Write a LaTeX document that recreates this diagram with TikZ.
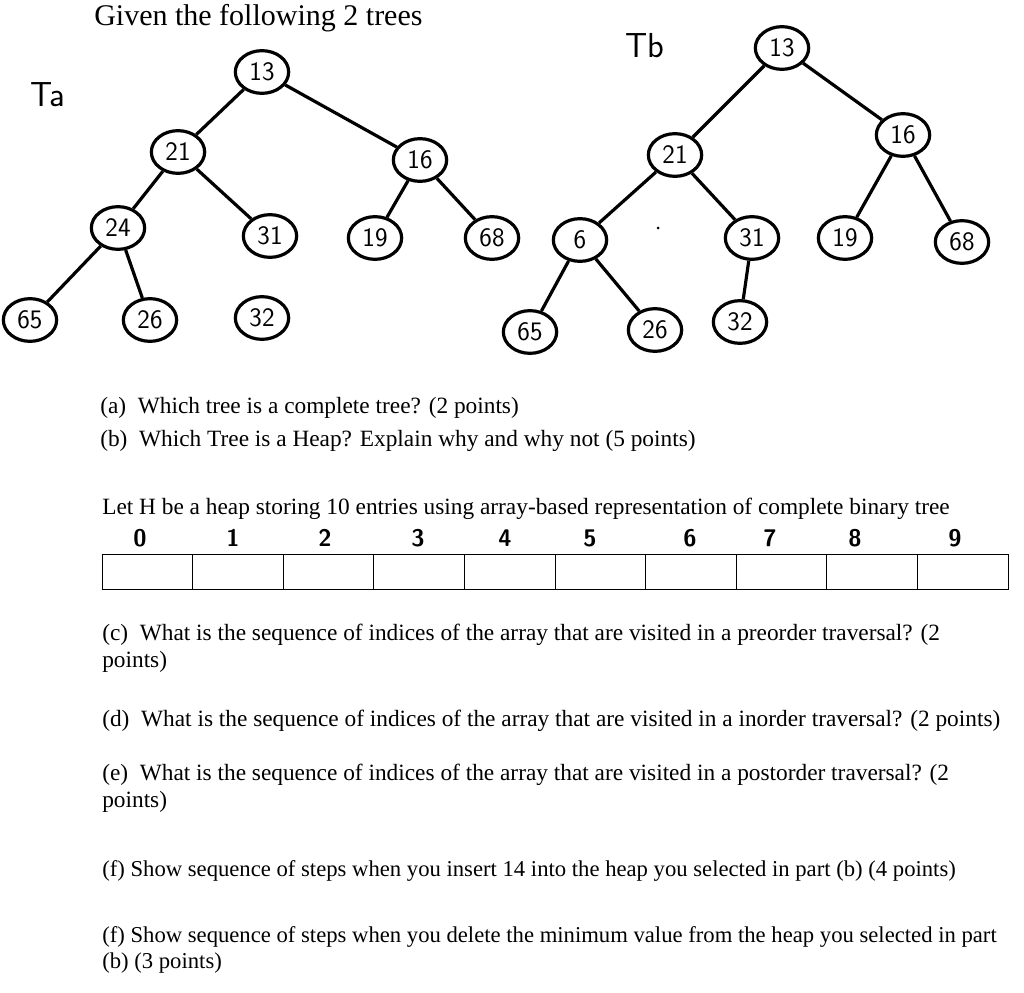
\documentclass[tikz,border=0pt]{standalone}
\usepackage{fontspec}
\setmainfont{Liberation Serif}
\usetikzlibrary{shapes.geometric}
\begin{document}
\begin{tikzpicture}[x=0.75pt,y=-0.75pt,
  tn/.style={ellipse,draw,line width=2.4pt,inner sep=1pt,minimum width=40pt,minimum height=32pt,font=\sffamily\fontsize{20}{20}\selectfont},
  ed/.style={line width=2.4pt},
  txt/.style={anchor=west,inner sep=0pt,font=\fontsize{17.5}{20}\selectfont,align=left},
  txs/.style={txt,font=\fontsize{17}{20}\selectfont},
  hw/.style={font=\sffamily\bfseries\fontsize{18}{18}\selectfont,inner sep=0pt},
  cell/.style={draw,line width=0.6pt,minimum width=67.9pt,minimum height=26pt,inner sep=0pt}]
\useasboundingbox (0,0) rectangle (1024,992);
\node[txt,font=\fontsize{22.5}{24}\selectfont] (title) at (94,18) {Given the following 2 trees};
\node[hw,font=\sffamily\fontsize{26}{26}\selectfont] (ta) at (48,95) {Ta};
\node[hw,font=\sffamily\fontsize{26}{26}\selectfont] (tb) at (645,46) {Tb};
% Tree a
\node[tn] (a13) at (262,72) {13};
\node[tn] (a21) at (178,152) {21};
\node[tn] (a16) at (420,160) {16};
\node[tn] (a24) at (118,228) {24};
\node[tn] (a31) at (270,236) {31};
\node[tn] (a19) at (375,238) {19};
\node[tn] (a68) at (492,238) {68};
\node[tn] (a65) at (30,320) {65};
\node[tn] (a26) at (150,320) {26};
\node[tn] (a32) at (262,318) {32};
\draw[ed] (a13)--(a21); \draw[ed] (a13)--(a16);
\draw[ed] (a21)--(a24); \draw[ed] (a21)--(a31);
\draw[ed] (a16)--(a19); \draw[ed] (a16)--(a68);
\draw[ed] (a24)--(a65); \draw[ed] (a24)--(a26);
% Tree b
\node[tn] (b13) at (782,48) {13};
\node[tn] (b21) at (675,155) {21};
\node[tn] (b16) at (903,135) {16};
\node[tn] (b6) at (580,240) {6};
\node[tn] (b31) at (752,238) {31};
\node[tn] (b19) at (845,238) {19};
\node[tn] (b68) at (962,242) {68};
\node[tn] (b65) at (530,332) {65};
\node[tn] (b26) at (655,330) {26};
\node[tn] (b32) at (740,322) {32};
\draw[ed] (b13)--(b21); \draw[ed] (b13)--(b16);
\draw[ed] (b21)--(b6); \draw[ed] (b21)--(b31);
\draw[ed] (b16)--(b19); \draw[ed] (b16)--(b68);
\draw[ed] (b6)--(b65); \draw[ed] (b6)--(b26); \draw[ed] (b31)--(b32);
\fill (658,228) circle (1.5);
% questions
\node[txt] (qa) at (100,408) {(a)\ \ Which tree is a complete tree? (2 points)};
\node[txt] (qb) at (100,441) {(b)\ \ Which Tree is a Heap? Explain why and why not (5 points)};
\node[txt] (qh) at (102,509) {Let H be a heap storing 10 entries using array-based representation of complete binary tree};
\foreach \i/\x in {0/140,1/233,2/325,3/418,4/505,5/590,6/690,7/770,8/855,9/955}
  \node[hw] (i\i) at (\x,538) {\i};
\foreach \i in {0,...,9}
  \node[cell] (c\i) at ({147.3+90.6*\i},572) {};
\node[txt] (qc) at (102,648) {(c)\ \ What is the sequence of indices of the array that are visited in a preorder traversal? (2\\points)};
\node[txt] (qd) at (102,721) {(d)\ \ What is the sequence of indices of the array that are visited in a inorder traversal? (2 points)};
\node[txt] (qe) at (102,788) {(e)\ \ What is the sequence of indices of the array that are visited in a postorder traversal? (2\\points)};
\node[txs] (qf) at (102,871) {(f) Show sequence of steps when you insert 14 into the heap you selected in part (b) (4 points)};
\node[txs] (qg) at (102,950) {(f) Show sequence of steps when you delete the minimum value from the heap you selected in part\\(b) (3 points)};
\end{tikzpicture}
\end{document}
